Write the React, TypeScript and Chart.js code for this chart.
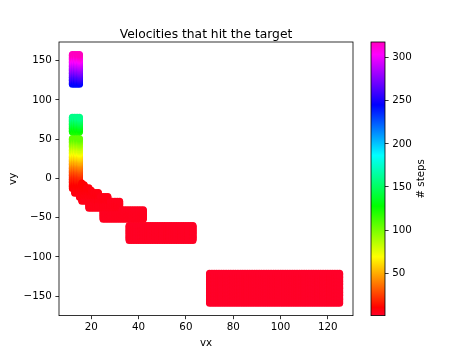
import React, { useEffect, useRef } from 'react';
import { Chart, registerables } from 'chart.js';

Chart.register(...registerables);

// ---------------- data ----------------
const TITLE = 'Velocities that hit the target';
const X_LABEL = 'vx';
const Y_LABEL = 'vy';
const CB_LABEL = '# steps';

const xTicks = [20, 40, 60, 80, 100, 120];
const yTicks = [-150, -100, -50, 0, 50, 100, 150];
const cbTicks = [50, 100, 150, 200, 250, 300];
const xRange = [6.35, 130.65];
const yRange = [-174.85, 173.85];
const stepsRange = [1, 318];

// rectangular regions of velocities hitting after a fixed number of steps
const blockSteps = [1, 2, 3, 4, 5, 6, 7, 8, 9, 10, 11, 12, 13];
const blockVxMin = [70, 36, 25, 19, 16, 15, 13, 13, 12, 12, 12, 12, 12];
const blockVxMax = [125, 63, 42, 32, 27, 23, 20, 19, 17, 17, 16, 15, 15];
const blockVyMin = [-159, -79, -52, -38, -29, -24, -19, -16, -13, -11, -9, -7, -6];
const blockVyMax = [-121, -60, -40, -29, -23, -18, -15, -12, -10, -8, -6, -5, -4];

// the vertical column (x-velocity stalls inside the target), one row per vy
const columnVxMin = 12;
const columnVxMax = 15;
const columnVy = [
  -3, -2, -1, 0, 1, 2, 3, 4, 5, 6, 7, 8, 9, 10, 11, 12, 13, 14, 15, 16, 17, 18, 19, 20,
  21, 22, 23, 24, 25, 26, 27, 28, 29, 30, 31, 32, 33, 34, 35, 36, 37,
  39, 40, 41, 42, 43, 44, 45, 46, 47, 48, 49, 50, 51,
  59, 60, 61, 62, 63, 64, 65, 66, 67, 68, 69, 70, 71, 72, 73, 74, 75, 76, 77, 78,
  120, 121, 122, 123, 124, 125, 126, 127, 128, 129, 130, 131, 132, 133, 134, 135, 136,
  137, 138, 139, 140, 141, 142, 143, 144, 145, 146, 147, 148, 149, 150, 151, 152, 153,
  154, 155, 156, 157, 158,
];
const columnSteps = [
  14, 15, 16, 17, 18, 19, 20, 21, 22, 24, 25, 27, 28, 30, 31, 33, 35, 36, 38, 40, 41, 43, 45, 47,
  49, 50, 52, 54, 56, 58, 60, 61, 63, 65, 67, 69, 71, 73, 75, 77, 79,
  82, 84, 86, 88, 90, 92, 94, 96, 98, 100, 102, 104, 106,
  121, 123, 125, 127, 129, 131, 133, 135, 137, 139, 141, 143, 145, 147, 149, 151, 153, 155, 157, 159,
  242, 244, 246, 248, 250, 252, 254, 256, 258, 260, 262, 264, 266, 268, 270, 272, 274,
  276, 278, 280, 282, 284, 286, 288, 290, 292, 294, 296, 298, 300, 302, 304, 306, 308,
  310, 312, 314, 316, 318,
];

// gist_rainbow colormap stops
const cmapStops: [number, number[]][] = [
  [0.0, [1, 0, 0.16]],
  [0.03, [1, 0, 0]],
  [0.215, [1, 1, 0]],
  [0.4, [0, 1, 0]],
  [0.586, [0, 1, 1]],
  [0.77, [0, 0, 1]],
  [0.954, [1, 0, 1]],
  [1.0, [1, 0, 0.75]],
];

function rgb(c: number[]) {
  return `rgb(${Math.round(c[0] * 255)},${Math.round(c[1] * 255)},${Math.round(c[2] * 255)})`;
}
function cmap(v: number) {
  let f = (v - stepsRange[0]) / (stepsRange[1] - stepsRange[0]);
  f = Math.max(0, Math.min(1, f));
  for (let i = 1; i < cmapStops.length; i++) {
    const [f1, c1] = cmapStops[i];
    const [f0, c0] = cmapStops[i - 1];
    if (f <= f1) {
      const t = (f - f0) / (f1 - f0 || 1);
      return rgb([0, 1, 2].map((k) => c0[k] + (c1[k] - c0[k]) * t));
    }
  }
  return rgb(cmapStops[cmapStops.length - 1][1]);
}

function buildPoints() {
  const seen = new Map<string, { x: number; y: number; s: number }>();
  blockSteps.forEach((s, i) => {
    for (let vx = blockVxMin[i]; vx <= blockVxMax[i]; vx++) {
      for (let vy = blockVyMin[i]; vy <= blockVyMax[i]; vy++) {
        const k = vx + ',' + vy;
        if (!seen.has(k)) seen.set(k, { x: vx, y: vy, s });
      }
    }
  });
  columnVy.forEach((vy, i) => {
    for (let vx = columnVxMin; vx <= columnVxMax; vx++) {
      const k = vx + ',' + vy;
      if (!seen.has(k)) seen.set(k, { x: vx, y: vy, s: columnSteps[i] });
    }
  });
  const pts = Array.from(seen.values());
  pts.sort((a, b) => (a.x - b.x) || (a.y - b.y));
  return pts;
}

const fmt = (v: any) => {
  const n = Number(v);
  return n < 0 ? '\u2212' + Math.abs(n) : String(n);
};

const FONT = "'DejaVu Sans', sans-serif";
const CB_WIDTH = 14;

const decor = {
  id: 'decor',
  afterDraw(chart: any) {
    const { ctx, chartArea: a } = chart;
    const cb = chart.scales.cb;
    ctx.save();
    // spines
    ctx.strokeStyle = '#000';
    ctx.lineWidth = 0.8;
    ctx.strokeRect(a.left, a.top, a.right - a.left, a.bottom - a.top);
    // colorbar
    const x0 = cb.left - CB_WIDTH;
    const yTop = cb.getPixelForValue(stepsRange[1]);
    const yBot = cb.getPixelForValue(stepsRange[0]);
    const g = ctx.createLinearGradient(0, yBot, 0, yTop);
    cmapStops.forEach(([f, c]) => g.addColorStop(f, rgb(c)));
    ctx.fillStyle = g;
    ctx.fillRect(x0, yTop, CB_WIDTH, yBot - yTop);
    ctx.strokeRect(x0, yTop, CB_WIDTH, yBot - yTop);
    // texts
    ctx.fillStyle = '#000';
    const cx = (a.left + a.right) / 2;
    ctx.textAlign = 'center';
    ctx.textBaseline = 'alphabetic';
    ctx.font = `12.3px ${FONT}`;
    ctx.fillText(TITLE, cx, 37.5);
    ctx.font = `10.3px ${FONT}`;
    ctx.fillText(X_LABEL, cx, 345.5);
    ctx.save();
    ctx.translate(15.5, (a.top + a.bottom) / 2);
    ctx.rotate(-Math.PI / 2);
    ctx.fillText(Y_LABEL, 0, 0);
    ctx.restore();
    ctx.save();
    ctx.translate(423.5, (yTop + yBot) / 2);
    ctx.rotate(-Math.PI / 2);
    ctx.fillText(CB_LABEL, 0, 0);
    ctx.restore();
    ctx.restore();
  },
};

export default function App() {
  const ref = useRef<HTMLCanvasElement>(null);
  useEffect(() => {
    Chart.defaults.font.family = FONT;
    Chart.defaults.font.size = 10.3;
    Chart.defaults.color = '#000';
    const pts = buildPoints();
    const tickGrid = { display: true, drawOnChartArea: false, drawTicks: true, tickLength: 3.6, color: '#000', lineWidth: 0.8 };
    const chart = new Chart(ref.current as HTMLCanvasElement, {
      type: 'scatter',
      data: {
        datasets: [
          {
            data: pts.map((p) => ({ x: p.x, y: p.y })),
            backgroundColor: pts.map((p) => cmap(p.s)),
            pointRadius: 3.5,
            pointHoverRadius: 3.5,
            borderWidth: 0,
            pointBorderWidth: 0,
          } as any,
        ],
      },
      options: {
        animation: false,
        responsive: false,
        events: [],
        layout: { padding: { top: 42, left: 0, right: 0, bottom: 0 } },
        plugins: { legend: { display: false }, tooltip: { enabled: false }, title: { display: false } },
        scales: {
          x: {
            type: 'linear',
            position: 'bottom',
            min: xRange[0],
            max: xRange[1],
            afterBuildTicks: (s: any) => { s.ticks = xTicks.map((v) => ({ value: v })); },
            afterFit: (s: any) => { s.height = 39.4; },
            grid: tickGrid,
            border: { display: false },
            ticks: { color: '#000', padding: 1.5, maxRotation: 0, autoSkip: false, callback: fmt },
          },
          y: {
            type: 'linear',
            position: 'left',
            min: yRange[0],
            max: yRange[1],
            afterBuildTicks: (s: any) => { s.ticks = yTicks.map((v) => ({ value: v })); },
            afterFit: (s: any) => { s.width = 59; },
            grid: tickGrid,
            border: { display: false },
            ticks: { color: '#000', padding: 3.6, autoSkip: false, callback: fmt },
          },
          gap: {
            type: 'linear',
            position: 'right',
            weight: 1,
            display: true,
            grid: { display: false },
            ticks: { display: false },
            border: { display: false },
            afterFit: (s: any) => { s.width = 32; },
          },
          cb: {
            type: 'linear',
            position: 'right',
            weight: 2,
            min: stepsRange[0],
            max: stepsRange[1],
            afterBuildTicks: (s: any) => { s.ticks = cbTicks.map((v) => ({ value: v })); },
            afterFit: (s: any) => { s.width = 89; },
            grid: tickGrid,
            border: { display: false },
            ticks: { color: '#000', padding: 3.6, autoSkip: false, callback: fmt },
          },
        } as any,
      },
      plugins: [decor],
    });
    return () => chart.destroy();
  }, []);
  return (
    <div style={{ position: 'fixed', left: 0, top: 0, width: 474, height: 355, background: '#fff' }}>
      <canvas ref={ref} width={474} height={355} style={{ display: 'block', width: 474, height: 355 }} />
    </div>
  );
}
